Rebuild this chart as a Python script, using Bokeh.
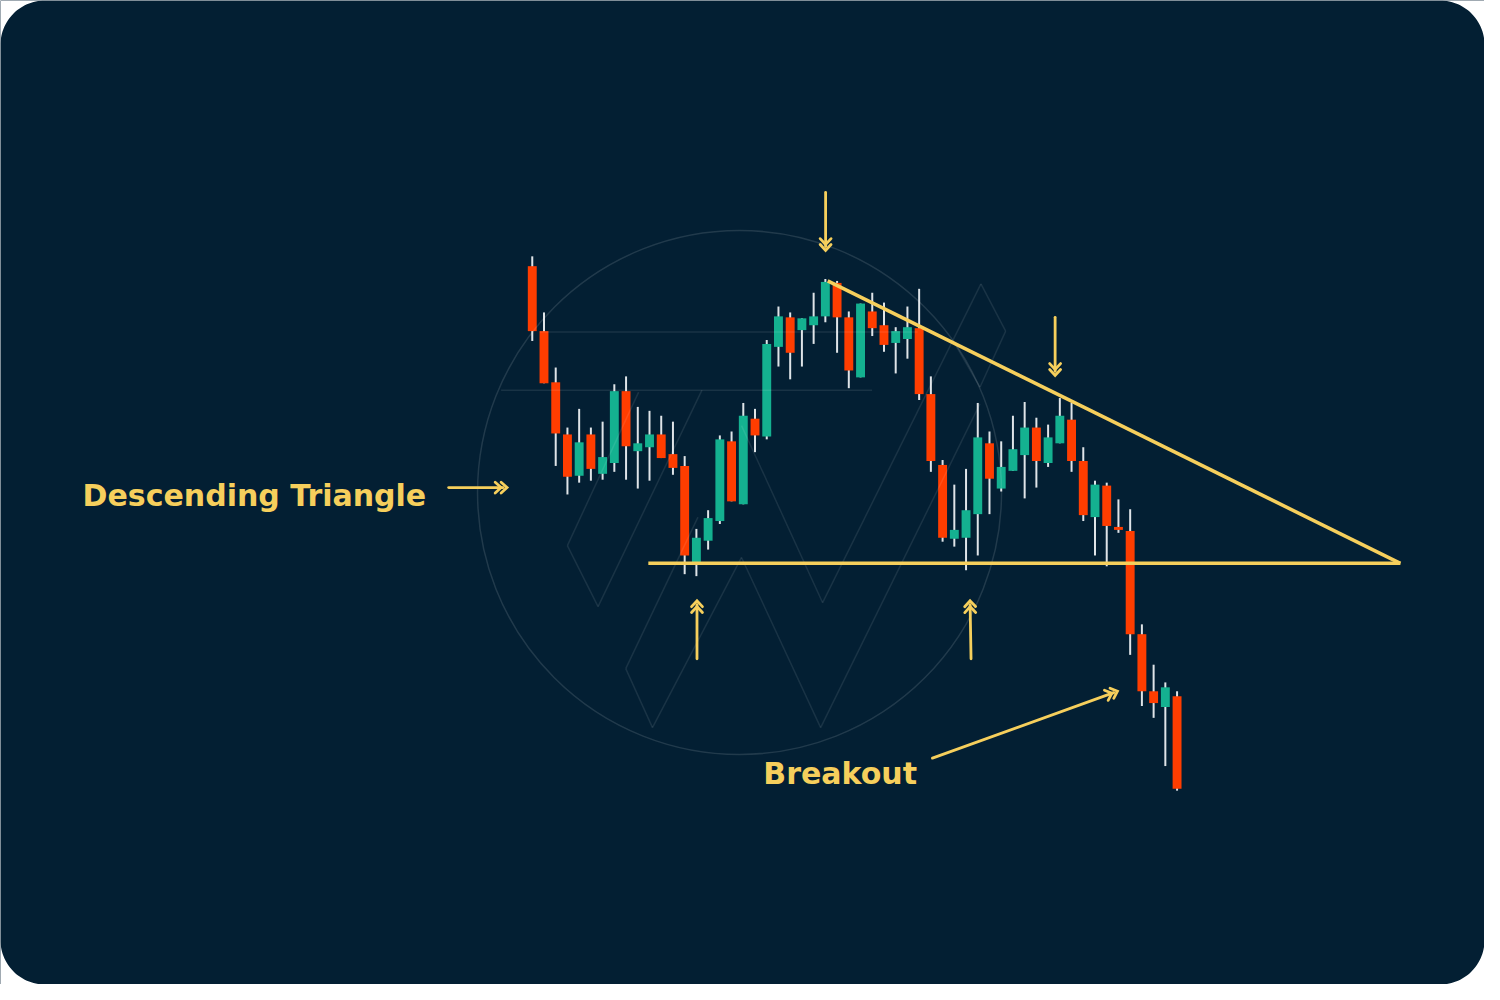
import math
from bokeh.plotting import figure
from bokeh.models import Range1d, ColumnDataSource
from bokeh.core.properties import value
from bokeh.embed import file_html
from bokeh.resources import INLINE

# ---------------- data (price units) ----------------
opens = [73.0, 66.4, 61.2, 55.9, 51.7, 55.9, 51.9, 53.0, 60.3, 54.2,
         54.6, 55.9, 53.9, 52.7, 42.9, 45.1, 47.1, 55.2, 48.8, 57.5,
         55.7, 64.8, 67.8, 66.5, 67.0, 67.9, 71.3, 67.8, 61.7, 68.4,
         67.0, 65.2, 65.6, 66.7, 60.0, 52.8, 45.3, 45.4, 47.8, 55.0,
         50.4, 52.2, 53.8, 56.6, 53.0, 55.0, 57.4, 53.2, 47.5, 50.7,
         46.5, 46.1, 35.6, 29.8, 28.2, 29.3]
closes = [66.4, 61.1, 56.0, 51.6, 55.1, 52.4, 53.6, 60.3, 54.7, 55.0,
          55.9, 53.5, 52.5, 43.6, 45.4, 47.4, 55.4, 49.1, 57.8, 55.8,
          65.1, 67.9, 64.2, 67.7, 67.9, 71.4, 67.8, 62.4, 69.2, 66.7,
          65.0, 66.4, 66.8, 60.0, 53.2, 45.4, 46.2, 48.2, 55.6, 51.4,
          52.6, 54.4, 56.6, 53.2, 55.6, 57.8, 53.2, 47.7, 50.8, 46.6,
          46.2, 35.6, 29.8, 28.6, 30.2, 19.9]
highs = [74.0, 68.3, 62.7, 56.6, 58.5, 56.6, 57.2, 61.0, 61.8, 58.7,
         58.3, 57.8, 57.2, 53.7, 46.3, 48.2, 55.8, 56.2, 59.1, 58.5,
         65.5, 68.9, 68.3, 67.7, 70.3, 71.7, 71.5, 68.4, 69.2, 70.3,
         69.3, 66.8, 68.9, 70.7, 61.8, 53.3, 50.8, 52.4, 59.1, 56.2,
         55.2, 57.8, 59.2, 57.6, 56.9, 59.6, 59.1, 54.6, 51.2, 51.0,
         49.3, 48.3, 36.6, 32.5, 30.7, 29.8]
lows = [65.4, 61.1, 52.7, 49.8, 51.0, 51.2, 51.3, 52.1, 51.3, 50.4,
        51.2, 53.5, 51.8, 41.7, 41.5, 44.2, 46.8, 49.1, 48.8, 54.1,
        55.4, 62.8, 61.5, 62.8, 65.1, 67.3, 64.2, 60.6, 61.7, 65.9,
        64.3, 62.1, 63.6, 59.4, 52.1, 45.0, 44.5, 42.1, 43.6, 47.8,
        50.1, 52.2, 49.4, 50.5, 52.6, 55.0, 52.1, 47.1, 43.6, 42.5,
        45.9, 33.5, 28.3, 27.1, 22.2, 19.7]
idx = list(range(len(opens)))

# pattern levels (index, price)
support_x = [9.9, 74.05]
support_y = [42.8, 42.8]
resist_x = [25.2, 74.05]
resist_y = [71.5, 42.8]

# ---------------- pixel helpers (styling only) ----------------
X0, DX = 537.5, 11.85
def px2x(X):
    return (X - X0) / DX
def py2y(Y):
    return (1000 - Y) / 10.0

NAVY = "#031f33"
RED = "#ff3d00"
GREEN = "#14b190"
WICK = "#dfe4e8"
GOLD = "#f6cf5c"

p = figure(width=1484, height=984,
           x_range=Range1d(px2x(0), px2x(1500)),
           y_range=Range1d(py2y(1000), py2y(0)),
           output_backend="svg", toolbar_location=None, min_border=0)
p.axis.visible = False
p.grid.visible = False
p.outline_line_color = None
p.background_fill_color = NAVY
p.border_fill_color = "white"

# rounded corners (white patches)
R = 45
corner_xs, corner_ys = [], []
for cx, cy, corner, a0 in [(R, R, (0, 0), 180), (1500 - R, R, (1500, 0), 270),
                           (1500 - R, 1000 - R, (1500, 1000), 0), (R, 1000 - R, (0, 1000), 90)]:
    pts = [corner]
    for k in range(0, 31):
        a = math.radians(a0 + 90 * k / 30)
        pts.append((cx + R * math.cos(a), cy + R * math.sin(a)))
    corner_xs.append([px2x(q[0]) for q in pts])
    corner_ys.append([py2y(q[1]) for q in pts])
p.patches(corner_xs, corner_ys, fill_color="white", line_color=None)

# ---------------- candles ----------------
colors = [GREEN if c >= o else RED for o, c in zip(opens, closes)]
src = ColumnDataSource(dict(x=idx, o=opens, c=closes, h=highs, l=lows,
                            top=[max(o, c) for o, c in zip(opens, closes)],
                            bot=[min(o, c) for o, c in zip(opens, closes)],
                            color=colors))
p.segment(x0="x", y0="l", x1="x", y1="h", source=src, line_color=WICK, line_width=2)
p.vbar(x="x", width=0.76, top="top", bottom="bot", source=src,
       fill_color="color", line_color=None)

# ---------------- watermark ----------------
wm_segments = [
    [(573, 554), (604, 616)], [(573, 554), (645, 398)], [(604, 616), (709, 396)],
    [(632, 679), (659, 739)], [(632, 679), (705, 525)], [(659, 739), (749, 566)],
    [(749, 432), (831, 612)], [(749, 566), (829, 739)],
    [(831, 612), (991, 288)], [(829, 739), (990, 410)],
    [(991, 288), (1016, 336)], [(1016, 336), (990, 393)], [(963, 346), (990, 393)],
    [(506, 396), (881, 396)], [(545, 337), (927, 337)],
]
p.multi_line([[px2x(a[0]), px2x(b[0])] for a, b in wm_segments],
             [[py2y(a[1]), py2y(b[1])] for a, b in wm_segments],
             line_color="white", line_alpha=0.09, line_width=1.5)
p.scatter(x=[px2x(747)], y=[py2y(500)], size=524, marker="circle",
          fill_color=None, line_color="white", line_alpha=0.12, line_width=1.5)

# ---------------- pattern lines ----------------
p.line(support_x, support_y, line_color=GOLD, line_width=3.5)
p.line(resist_x, resist_y, line_color=GOLD, line_width=3.5)

# ---------------- arrows ----------------
def arrow(x_start, y_start, x_tip, y_tip):
    dx, dy = x_tip - x_start, y_tip - y_start
    n = math.hypot(dx, dy)
    ux, uy = dx / n, dy / n
    vx, vy = -uy, ux
    xs, ys = [[px2x(x_start), px2x(x_tip - ux * 4)]], [[py2y(y_start), py2y(y_tip - uy * 4)]]
    for k in (0, 6):
        tx, ty = x_tip - ux * k, y_tip - uy * k
        a = (tx - ux * 6 + vx * 5.5, ty - uy * 6 + vy * 5.5)
        b = (tx - ux * 6 - vx * 5.5, ty - uy * 6 - vy * 5.5)
        xs.append([px2x(a[0]), px2x(tx), px2x(b[0])])
        ys.append([py2y(a[1]), py2y(ty), py2y(b[1])])
    return xs, ys

arrows_px = [
    (834, 195, 834, 254),     # top down arrow
    (1066, 322, 1066, 381),   # second down arrow
    (704, 669, 704, 610),     # first up arrow
    (981, 669, 980, 610),     # second up arrow
    (453, 495, 512, 495),     # label arrow
    (942, 770, 1129, 702),    # breakout arrow
]
axs, ays = [], []
for a in arrows_px:
    xs, ys = arrow(*a)
    axs += xs
    ays += ys
p.multi_line(axs, ays, line_color=GOLD, line_width=2.8, line_cap="round", line_join="miter")

# ---------------- labels ----------------
label_text = ["Descending Triangle", "Breakout"]
label_x = [px2x(83), px2x(771)]
label_y = [py2y(503), py2y(786)]
p.text(x=label_x, y=label_y, text=label_text, text_color=GOLD,
       text_font=value("DejaVu Sans"), text_font_style="bold",
       text_font_size="30px", text_baseline="alphabetic", text_align="left")

open("out.html", "w").write(file_html(p, INLINE))
